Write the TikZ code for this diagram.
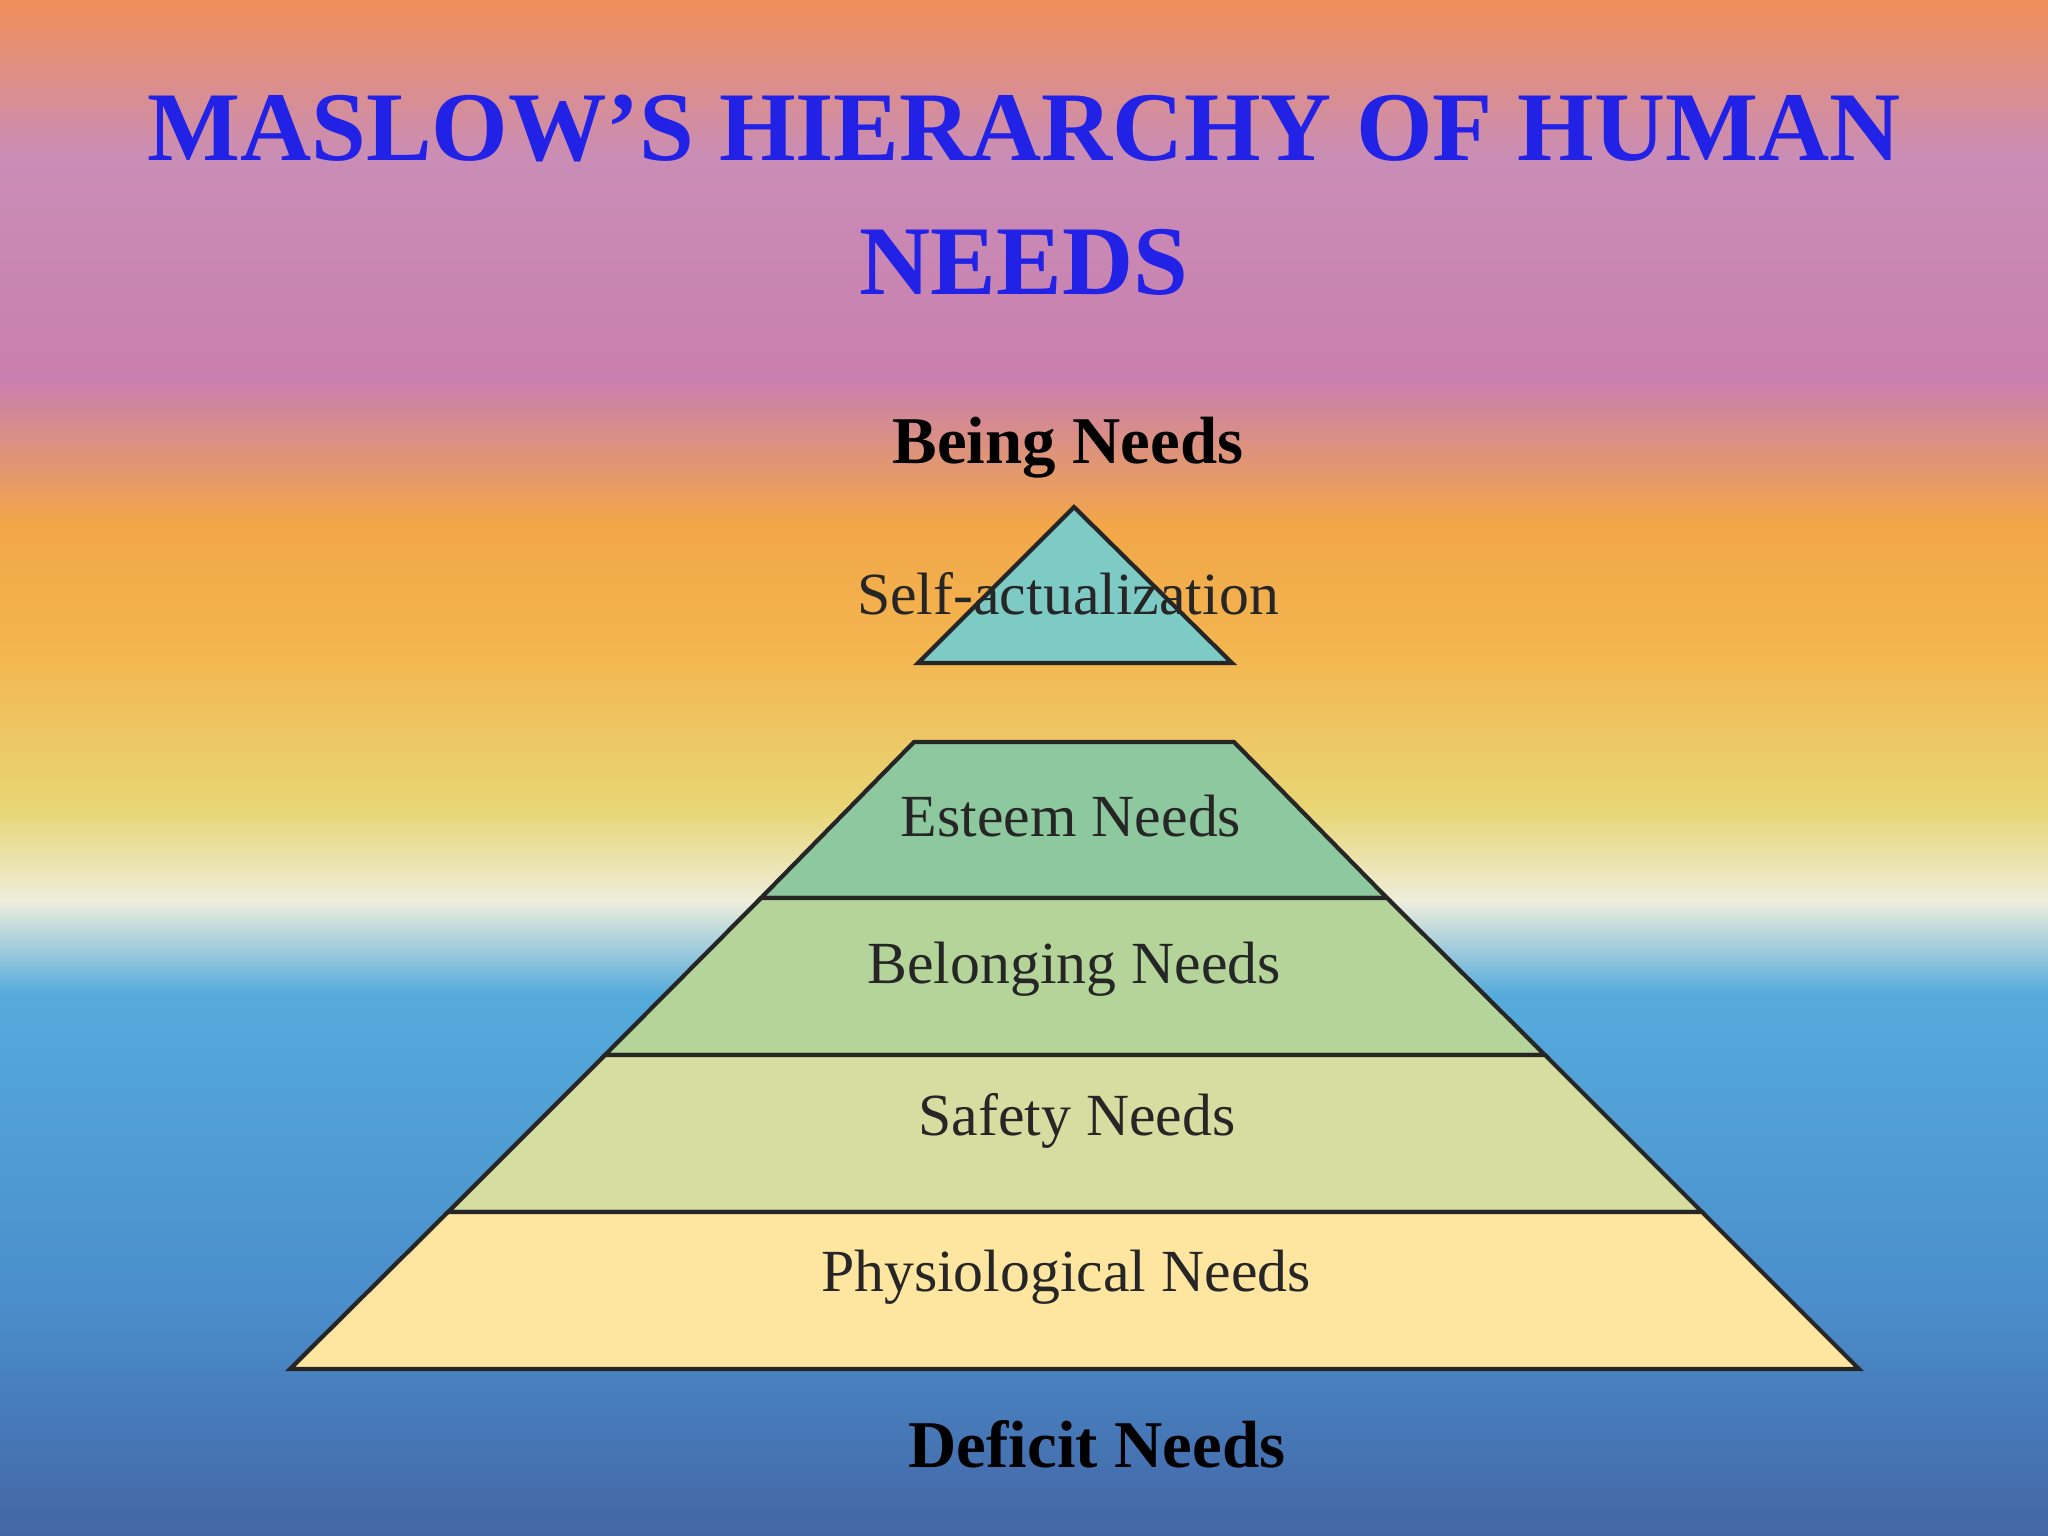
\documentclass[tikz,border=0pt]{standalone}
\usepackage{fontspec}
\setmainfont{Liberation Serif}
\definecolor{c1}{HTML}{4466A6}
\definecolor{c2}{HTML}{4A8ECB}
\definecolor{c3}{HTML}{55ABDC}
\definecolor{c4}{HTML}{EEEEDC}
\definecolor{c5}{HTML}{E8D676}
\definecolor{c6}{HTML}{F3B650}
\definecolor{c7}{HTML}{F2A648}
\definecolor{c8}{HTML}{C97FAF}
\definecolor{c9}{HTML}{C98DB6}
\definecolor{c10}{HTML}{F08F5A}
\definecolor{titleblue}{HTML}{2222E6}
\definecolor{lteal}{HTML}{7ECAC4}
\definecolor{lest}{HTML}{8DC89E}
\definecolor{lbel}{HTML}{B5D49A}
\definecolor{lsaf}{HTML}{D5DEA0}
\definecolor{lphy}{HTML}{FFE6A0}
\tikzset{
  layer/.style={draw=black!85, line width=1.2pt},
  lay/.style={font=\fontsize{17}{20}\selectfont, text=black!85},
  head/.style={font=\bfseries\fontsize{19}{22}\selectfont},
  ttl/.style={font=\bfseries\fontsize{28}{32}\selectfont, text=titleblue}
}
\begin{document}
\begin{tikzpicture}[x=0.01cm,y=-0.01cm]
\useasboundingbox (0,0) rectangle (2048,1536);
\shade[top color=c10, bottom color=c9] (0,0) rectangle (2048,158);
\shade[top color=c9, bottom color=c8] (0,157) rectangle (2048,380);
\shade[top color=c8, bottom color=c7] (0,379) rectangle (2048,524);
\shade[top color=c7, bottom color=c6] (0,523) rectangle (2048,654);
\shade[top color=c6, bottom color=c5] (0,653) rectangle (2048,811);
\shade[top color=c5, bottom color=c4] (0,810) rectangle (2048,902);
\shade[top color=c4, bottom color=c3] (0,901) rectangle (2048,994);
\shade[top color=c3, bottom color=c2] (0,993) rectangle (2048,1301);
\shade[top color=c2, bottom color=c1] (0,1300) rectangle (2048,1536);
\node[ttl] (t1) at (1024,128) {MASLOW'S HIERARCHY OF HUMAN};
\node[ttl] (t2) at (1024,262) {NEEDS};
\node[head] (being) at (1068,448) {Being Needs};
\node[head] (deficit) at (1097,1444) {Deficit Needs};
\draw[layer, fill=lteal] (1074,507) -- (1232,663) -- (918,663) -- cycle;
\draw[layer, fill=lest] (914,742) -- (1234,742) -- (1387,898) -- (761,898) -- cycle;
\draw[layer, fill=lbel] (761,898) -- (1387,898) -- (1545,1055) -- (605,1055) -- cycle;
\draw[layer, fill=lsaf] (605,1055) -- (1545,1055) -- (1702,1212) -- (448,1212) -- cycle;
\draw[layer, fill=lphy] (448,1212) -- (1702,1212) -- (1859,1369) -- (290,1369) -- cycle;
\node[lay] (sa) at (1068,594) {Self-actualization};
\node[lay] (es) at (1071,816) {Esteem Needs};
\node[lay] (be) at (1074,969) {Belonging Needs};
\node[lay] (sf) at (1077,1121) {Safety Needs};
\node[lay] (ph) at (1066,1277) {Physiological Needs};
\end{tikzpicture}
\end{document}
